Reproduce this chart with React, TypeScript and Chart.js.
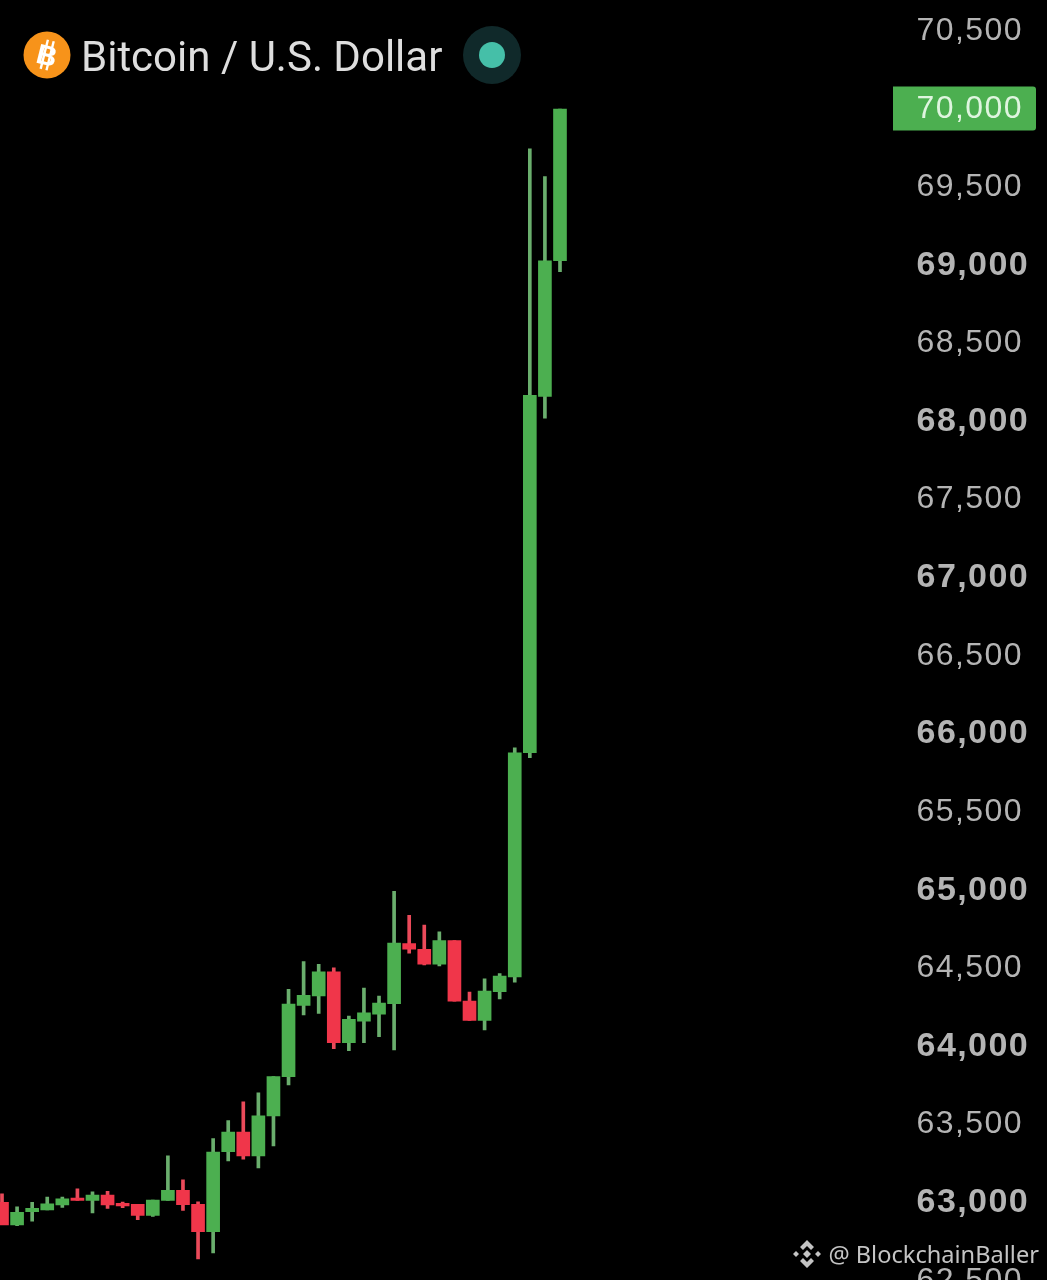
import React, { useEffect, useRef } from "react";
import { Chart, registerables } from "chart.js";

Chart.register(...registerables);

const opens = [63002, 62858, 62943, 62953, 62985, 63030, 63015, 63049, 62996, 62989, 62919, 63015, 63079, 62989, 62815, 63326, 63452, 63300, 63556, 63807, 64263, 64324, 64477, 64024, 64162, 64207, 64273, 64659, 64622, 64526, 64678, 64290, 64167, 64350, 64445, 65880, 68161, 69029];
const closes = [62858, 62938, 62964, 62992, 63024, 63015, 63049, 62985, 62979, 62919, 63017, 63079, 62987, 62815, 63324, 63452, 63300, 63556, 63807, 64271, 64327, 64477, 64024, 64173, 64215, 64277, 64661, 64622, 64526, 64678, 64290, 64167, 64354, 64450, 65880, 68167, 69029, 70000];
const highs = [63057, 62973, 63002, 63036, 63036, 63088, 63070, 63072, 63004, 62989, 63017, 63300, 63147, 63006, 63411, 63526, 63645, 63703, 63807, 64365, 64544, 64526, 64503, 64194, 64373, 64322, 64993, 64839, 64777, 64733, 64678, 64348, 64433, 64467, 65912, 69746, 69568, 70000];
const lows = [62859, 62853, 62881, 62953, 62970, 63015, 62934, 62964, 62968, 62891, 62912, 63015, 62951, 62640, 62679, 63268, 63279, 63222, 63364, 63754, 64201, 64212, 63985, 63973, 64024, 64062, 63977, 64597, 64522, 64516, 64290, 64167, 64105, 64305, 64412, 65849, 68022, 68959];
const tickValues = [62500, 63000, 63500, 64000, 64500, 65000, 65500, 66000, 66500, 67000, 67500, 68000, 68500, 69000, 69500, 70000, 70500];
const title = "Bitcoin / U.S. Dollar";
const watermark = "@ BlockchainBaller";

const GREEN = "#4caf50";
const GREEN_WICK = "#6aae6d";
const RED = "#f0364a";
const RED_WICK = "#ea4a5a";
const lastPrice = closes[closes.length - 1];

const priceTag = {
  id: "priceTag",
  beforeUpdate(chart: any) {
    chart.ctx.letterSpacing = "1.4px";
  },
  beforeDraw(chart: any) {
    const { ctx, scales } = chart;
    ctx.letterSpacing = "1.4px";
    const y = scales.y.getPixelForValue(lastPrice);
    ctx.save();
    ctx.fillStyle = GREEN;
    ctx.beginPath();
    ctx.roundRect(893, y - 22.5, 143, 44, [0, 3, 3, 0]);
    ctx.fill();
    ctx.restore();
  },
};

export default function App() {
  const ref = useRef<HTMLCanvasElement>(null);
  useEffect(() => {
    const up = opens.map((o, i) => closes[i] >= o);
    const chart = new Chart(ref.current!, {
      type: "bar",
      data: {
        datasets: [
          {
            data: opens.map((o, i) => ({ x: i, y: [o, closes[i]] })),
            backgroundColor: up.map((u) => (u ? GREEN : RED)),
            barThickness: 13,
            borderWidth: 0,
            borderSkipped: false,
            grouped: false,
          } as any,
          {
            data: lows.map((l, i) => ({ x: i, y: [l, highs[i]] })),
            backgroundColor: up.map((u) => (u ? GREEN_WICK : RED_WICK)),
            barThickness: 3,
            borderWidth: 0,
            borderSkipped: false,
            grouped: false,
          } as any,
        ],
      },
      options: {
        responsive: false,
        animation: false,
        devicePixelRatio: 1,
        layout: { padding: { left: 0, top: 0, right: 18, bottom: 19 } },
        plugins: { legend: { display: false }, tooltip: { enabled: false }, title: { display: false } },
        scales: {
          x: { type: "linear", display: false, offset: false, min: -0.133, max: 68.1, grid: { display: false } },
          y: {
            type: "linear",
            position: "right",
            min: 62500,
            max: 70575,
            border: { display: false },
            grid: { display: false, drawTicks: false },
            afterBuildTicks: (s: any) => {
              s.ticks = tickValues.map((value) => ({ value }));
            },
            ticks: {
              mirror: true,
              crossAlign: "far",
              padding: 0,
              autoSkip: false,
              callback: (v: any) => Number(v).toLocaleString("en-US"),
              color: (c: any) => (c.tick && c.tick.value === lastPrice ? "#dff5df" : "#b4b4b4"),
              font: (c: any) =>
                c.tick && c.tick.value % 1000 === 0 && c.tick.value !== lastPrice
                  ? { family: "Liberation Sans", size: 34, weight: "bold" }
                  : { family: "Liberation Sans", size: 32, weight: "normal" },
            },
          },
        },
      },
      plugins: [priceTag],
    } as any);
    return () => chart.destroy();
  }, []);

  return (
    <div style={{ position: "fixed", left: 0, top: 0, width: 1047, height: 1280, background: "#000", overflow: "hidden" }}>
      <canvas ref={ref} width={1047} height={1300} style={{ position: "absolute", left: 0, top: 0, display: "block" }} />
      <svg width={70} height={70} style={{ position: "absolute", left: 12, top: 20 }}>
        <circle cx={35} cy={35} r={23.5} fill="#f7931a" />
        <g transform="rotate(14 35 35)">
          <text x={35} y={45} textAnchor="middle" fontFamily="Liberation Sans" fontWeight="bold" fontSize={28} fill="#fff">B</text>
          <rect x={31} y={20} width={2.4} height={30} fill="#fff" />
          <rect x={37} y={20} width={2.4} height={30} fill="#fff" />
        </g>
      </svg>
      <div
        style={{
          position: "absolute",
          left: 81,
          top: 31,
          fontFamily: "Roboto",
          fontSize: 42,
          lineHeight: "52px",
          color: "#dedede",
          whiteSpace: "nowrap",
        }}
      >
        {title}
      </div>
      <svg width={60} height={60} style={{ position: "absolute", left: 462, top: 25 }}>
        <circle cx={30} cy={30} r={29} fill="#10292a" />
        <circle cx={30} cy={30} r={13} fill="#45bfa8" />
      </svg>
      <svg width={30} height={30} style={{ position: "absolute", left: 792, top: 1239 }}>
        <g fill="#c4c4c4">
          <polygon points="15,1 22,8 19,11 15,7 11,11 8,8" />
          <polygon points="15,29 22,22 19,19 15,23 11,19 8,22" />
          <polygon points="15,11 19,15 15,19 11,15" />
          <polygon points="4,12 7,15 4,18 1,15" />
          <polygon points="26,12 29,15 26,18 23,15" />
        </g>
      </svg>
      <div
        style={{
          position: "absolute",
          right: 8,
          top: 1238,
          fontFamily: "Noto Sans",
          fontSize: 23.6,
          lineHeight: "32px",
          color: "#c4c4c4",
          whiteSpace: "nowrap",
        }}
      >
        {watermark}
      </div>
    </div>
  );
}
